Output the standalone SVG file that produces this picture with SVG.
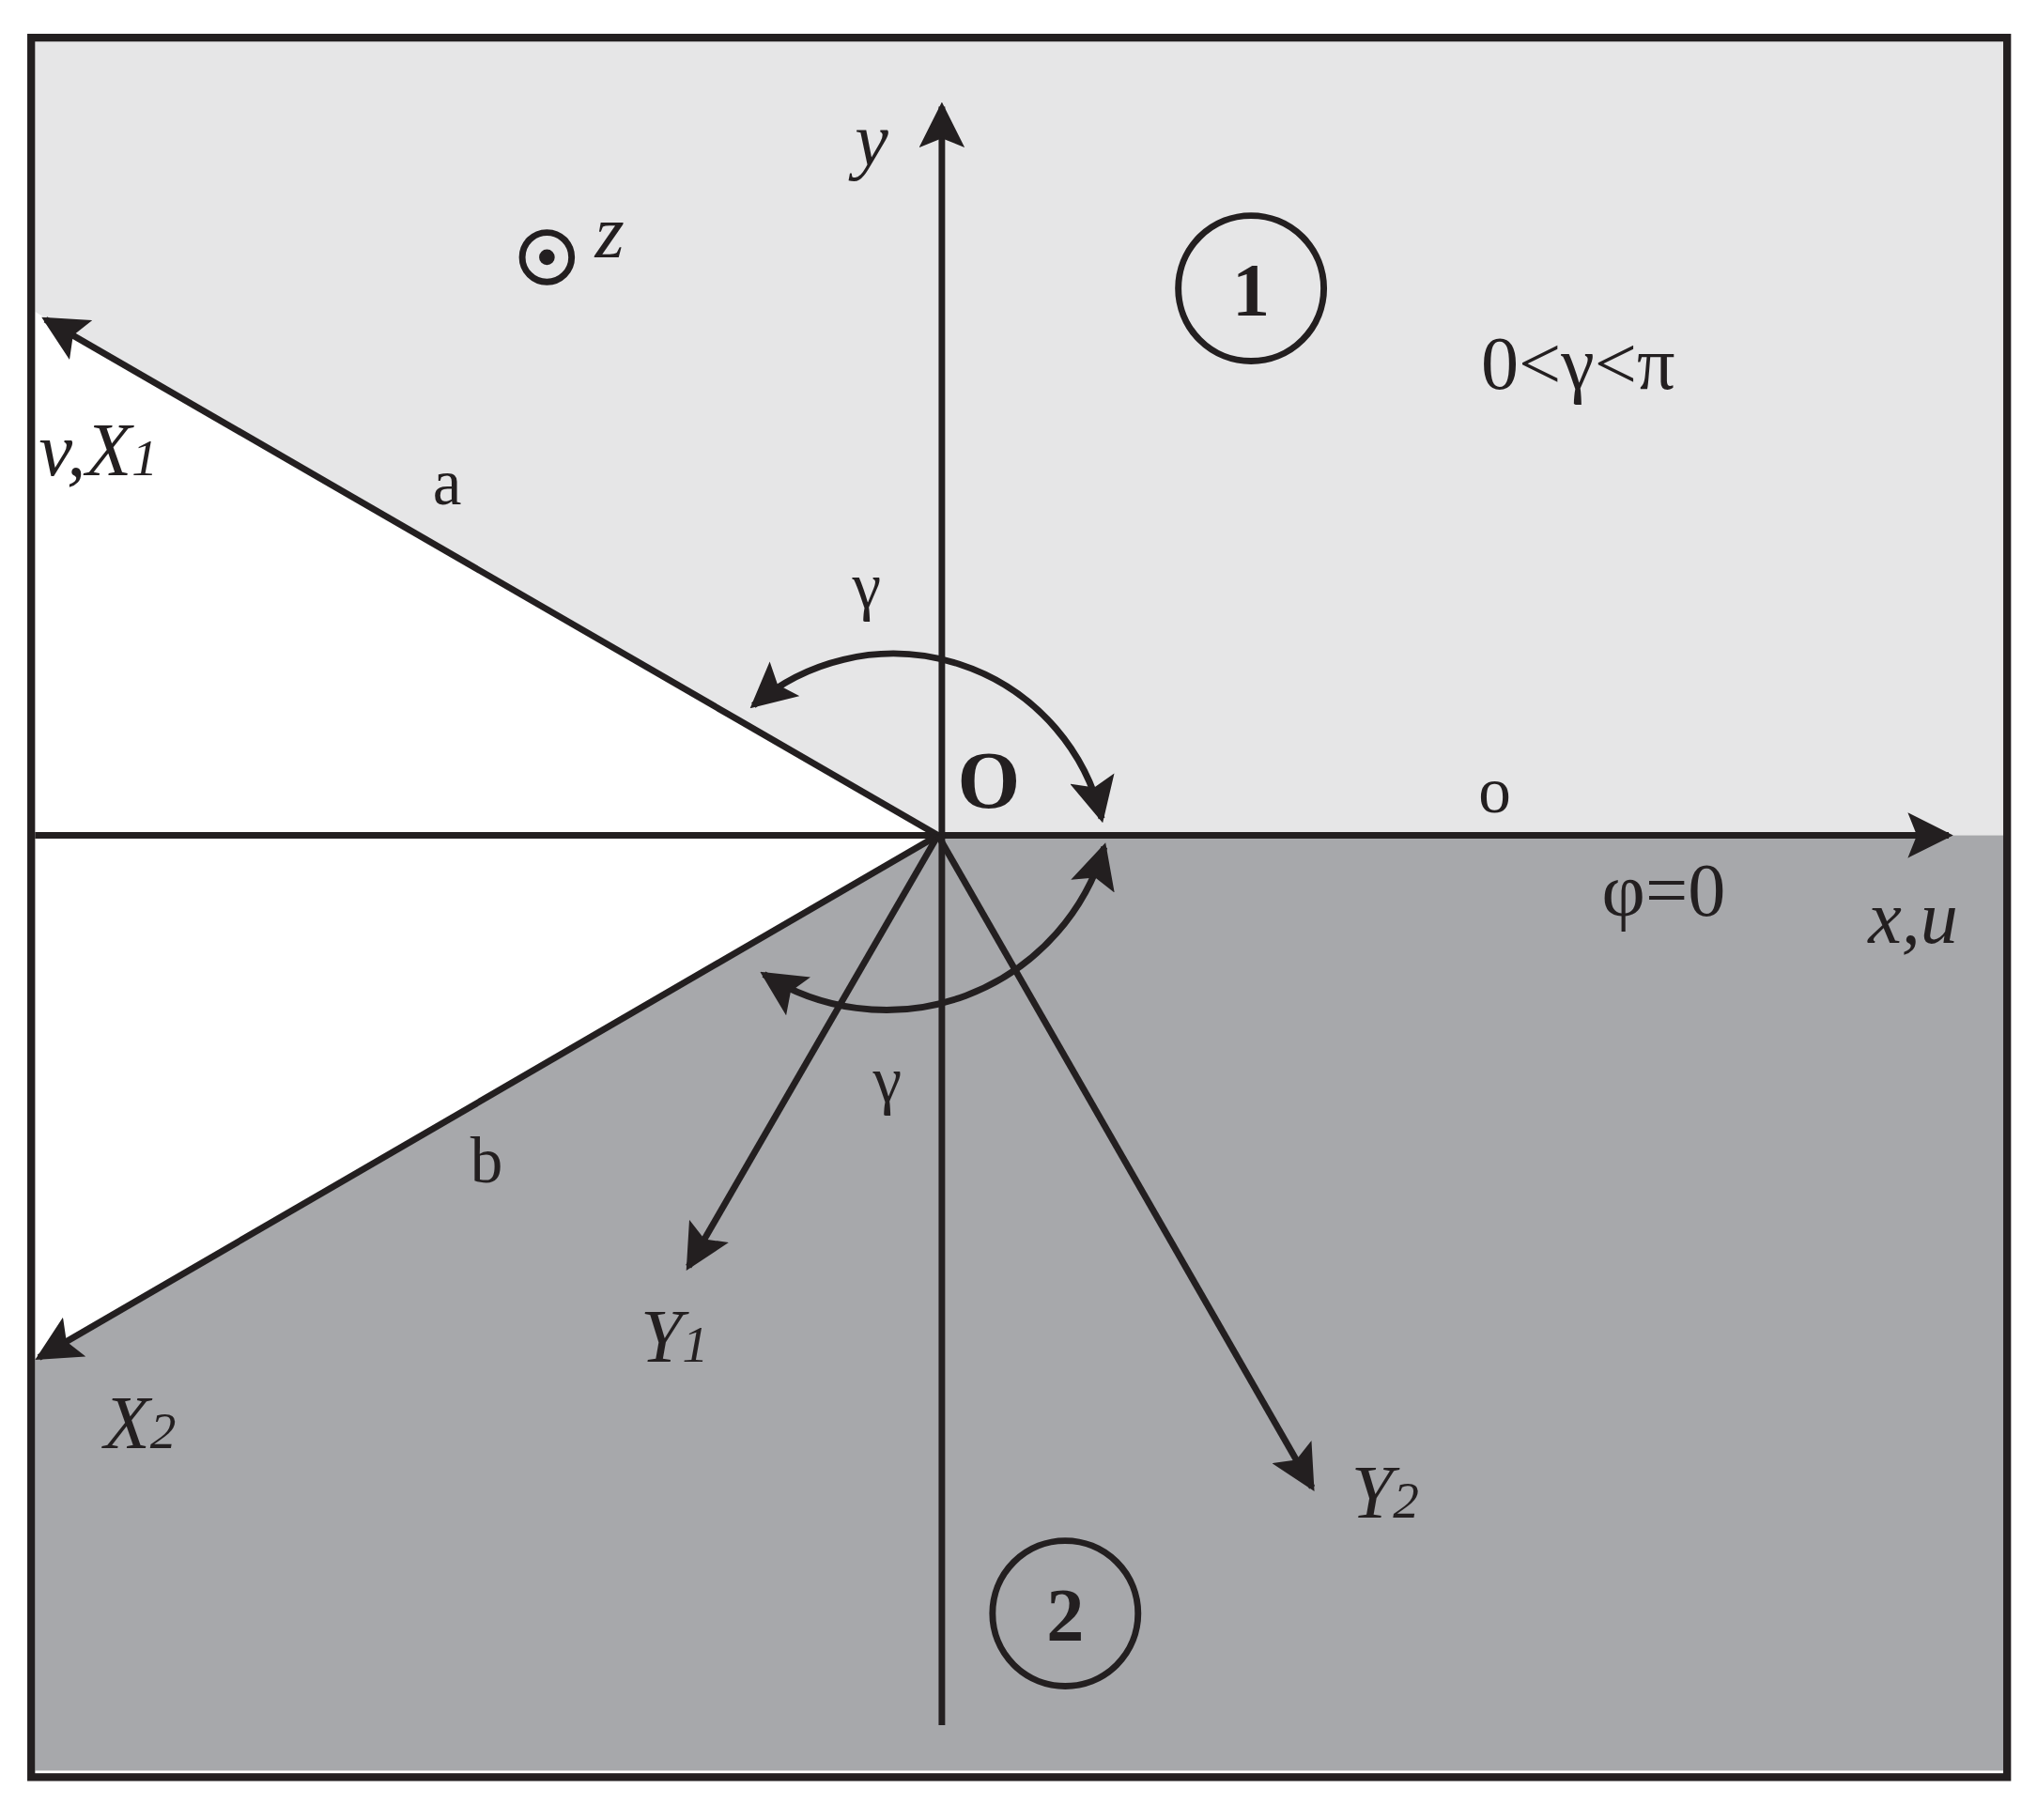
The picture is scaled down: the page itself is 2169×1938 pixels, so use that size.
<svg xmlns="http://www.w3.org/2000/svg" width="2169" height="1938" viewBox="0 0 2169 1938">
<style>
.l{stroke:#231f20;stroke-width:5;fill:none}
.t{font-family:"Liberation Serif",serif;fill:#231f20}
.i{font-style:italic;font-size:58px}
.r{font-size:50px}
.b{font-size:58px}
</style>
<defs>
<marker id="ah" viewBox="0 0 10 10" refX="9" refY="5" markerWidth="7" markerHeight="7" markerUnits="strokeWidth" orient="auto-start-reverse"><path d="M0,0L10,5L0,10L2,5z" fill="#231f20"/></marker>
</defs>
<rect width="2169" height="1938" fill="#fff"/>
<g transform="scale(1.3833)">
<g id="regions">
<rect x="27" y="30" width="1517" height="613" fill="#e6e6e7"/>
<rect x="27" y="643" width="1517" height="720" fill="#a7a8ab"/>
<polygon points="722,643 27,240 27,1047" fill="#fff"/>
<rect x="24" y="29" width="1521" height="1339" fill="none" stroke="#231f20" stroke-width="6"/>
</g>
<g id="connectors">
<line class="l" x1="27" y1="643" x2="1500" y2="643" marker-end="url(#ah)"/>
<line class="l" x1="725" y1="1328" x2="725" y2="82" marker-end="url(#ah)"/>
<line class="l" x1="722" y1="643" x2="35" y2="246" marker-end="url(#ah)"/>
<line class="l" x1="722" y1="643" x2="30" y2="1045" marker-end="url(#ah)"/>
<line class="l" x1="722" y1="643" x2="530" y2="975" marker-end="url(#ah)"/>
<line class="l" x1="722" y1="643" x2="1010" y2="1145" marker-end="url(#ah)"/>
<path class="l" d="M580,543 A165,165 0 0 1 848,630" marker-start="url(#ah)" marker-end="url(#ah)" stroke-width="4"/>
<path class="l" d="M850,652 A175,175 0 0 1 588,750" marker-start="url(#ah)" marker-end="url(#ah)" stroke-width="4"/>
</g>
<g id="zdot"><circle cx="421" cy="198" r="19" class="l"/><circle cx="421" cy="198" r="6" fill="#231f20"/></g>
<g id="region1"><circle cx="963" cy="222" r="56" class="l"/><text class="t" x="963" y="243" font-size="58" font-weight="bold" text-anchor="middle">1</text></g>
<g id="region2"><circle cx="820" cy="1242" r="56" class="l"/><text class="t" x="820" y="1263" font-size="58" font-weight="bold" text-anchor="middle">2</text></g>
<g id="labels">
<text class="t i" x="658" y="127">y</text>
<text class="t i" x="458" y="198">z</text>
<text class="t b" x="1140" y="299">0&lt;γ&lt;π</text>
<text class="t i" x="30" y="366">v,X<tspan font-size="40">1</tspan></text>
<text class="t r" x="333" y="388">a</text>
<text class="t r" x="656" y="468">γ</text>
<text class="t" x="737" y="622" font-size="62" font-weight="bold">O</text>
<text class="t r" x="1138" y="625">o</text>
<text class="t b" x="1233" y="705">φ=0</text>
<text class="t i" x="1438" y="726">x,u</text>
<text class="t r" x="672" y="848">γ</text>
<text class="t r" x="362" y="910">b</text>
<text class="t i" x="493" y="1048">Y<tspan font-size="40">1</tspan></text>
<text class="t i" x="80" y="1115">X<tspan font-size="40">2</tspan></text>
<text class="t i" x="1040" y="1168">Y<tspan font-size="40">2</tspan></text>
</g>
</g>
</svg>
